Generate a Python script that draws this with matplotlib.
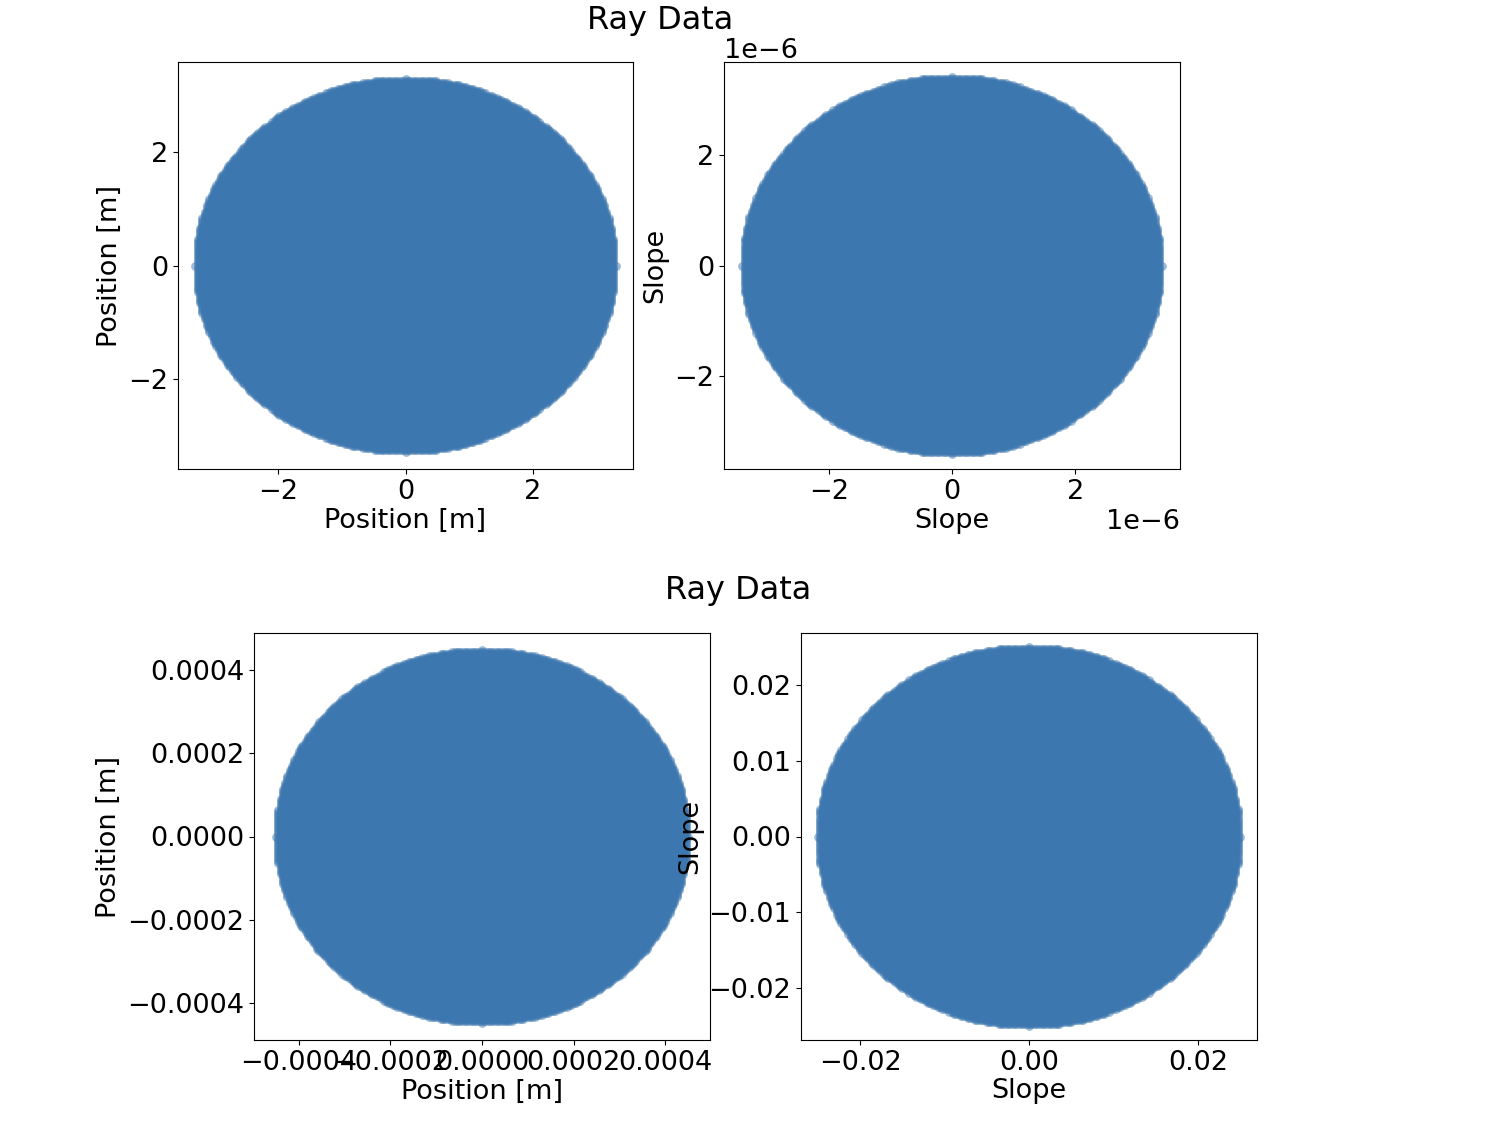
import numpy as np
import matplotlib
matplotlib.use("Agg")
import matplotlib.pyplot as plt
from matplotlib.ticker import MultipleLocator

# beam radii per panel (position [m], slope) for the two ray data sets
radii = [3.3, 3.4e-6, 4.5e-4, 0.025]
limits = [(3.57, 3.6), (3.7e-6, 3.67e-6), (4.98e-4, 4.9e-4), (0.027, 0.0268)]
xsteps = [2, 2e-6, 2e-4, 0.02]
ysteps = [2, 2e-6, 2e-4, 0.01]
xlabels = ["Position [m]", "Slope", "Position [m]", "Slope"]
ylabels = ["Position [m]", "Slope", "Position [m]", "Slope"]
titles = ["Ray Data", "Ray Data"]
n_grid = 181

W, H = 1492, 1140
fig = plt.figure(figsize=(W/100, H/100), dpi=100)
fs = 19.5
boxes = [(178, 62, 633, 469), (724, 62, 1180, 469), (254, 633, 710, 1040), (801, 633, 1257, 1040)]
u = np.linspace(-1, 1, n_grid)
gx, gy = np.meshgrid(u, u)
m = gx**2 + gy**2 <= 1
for i, (b, r, lim) in enumerate(zip(boxes, radii, limits)):
    x0, y0, x1, y1 = b
    ax = fig.add_axes([x0/W, 1-y1/H, (x1-x0)/W, (y1-y0)/H])
    ax.scatter(gx[m]*r, gy[m]*r, s=40, color='#3c77af', alpha=0.5, linewidths=0)
    ax.set_xlim(-lim[0], lim[0]); ax.set_ylim(-lim[1], lim[1])
    ax.xaxis.set_major_locator(MultipleLocator(xsteps[i]))
    ax.yaxis.set_major_locator(MultipleLocator(ysteps[i]))
    ax.set_xlabel(xlabels[i], fontsize=fs, labelpad=2); ax.set_ylabel(ylabels[i], fontsize=fs)
    ax.tick_params(labelsize=fs)
    ax.xaxis.get_offset_text().set_fontsize(fs)
    ax.yaxis.get_offset_text().set_fontsize(fs)
fig.text(660/W, 1-20/H, titles[0], ha='center', va='center', fontsize=23)
fig.text(738/W, 1-591/H, titles[1], ha='center', va='center', fontsize=23)
fig.savefig("out.png", dpi=100)
